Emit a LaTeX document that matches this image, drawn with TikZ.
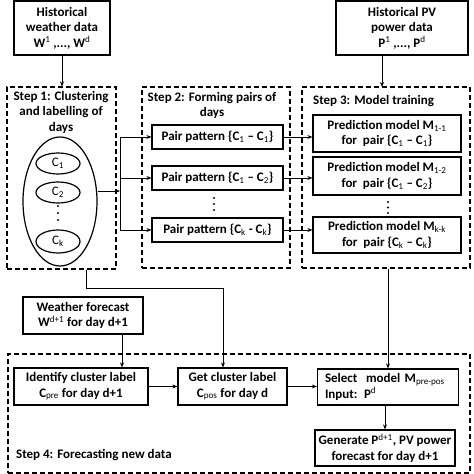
\documentclass[tikz,border=0pt]{standalone}
\usepackage{fontspec}
\setmainfont{Carlito}
\usetikzlibrary{shapes.geometric,arrows.meta,calc}
\newcommand{\sbs}[1]{\textsubscript{\mdseries #1}}
\newcommand{\sps}[1]{\textsuperscript{\mdseries #1}}
\begin{document}
\begin{tikzpicture}[x=1pt,y=-1pt,
  font=\bfseries\fontsize{13}{15.5}\selectfont,
  box/.style={draw,line width=1.2pt,align=center,inner sep=1pt},
  dbox/.style={draw,line width=1.2pt,dash pattern=on 5pt off 3pt},
  arr/.style={line width=1pt,-{Stealth[length=5pt,width=4pt]}},
  ln/.style={line width=1pt},
  dotc/.style={fill,circle,inner sep=0pt,minimum size=2.4pt},
  cl/.style={draw,ellipse,line width=1.2pt,inner sep=0pt,font=\mdseries\fontsize{13}{15}\selectfont}]
\useasboundingbox (0,0) rectangle (474,474);
% dashed step frames
\node[dbox,minimum width=109pt,minimum height=182pt] (s1) at (61.5,178) {};
\node[dbox,minimum width=148pt,minimum height=181pt] (s2) at (216,177.5) {};
\node[dbox,minimum width=168pt,minimum height=181pt] (s3) at (386,177.5) {};
\node[dbox,minimum width=462pt,minimum height=119pt] (s4) at (239,413.5) {};
% titles
\node[align=center,inner sep=0pt] (t1) at (61,112) {Step 1: Clustering\\and labelling of\\days};
\node[align=center,inner sep=0pt] (t2) at (212,105.5) {Step 2: Forming pairs of\\days};
\node[anchor=west,inner sep=0pt] (t3) at (313,101) {Step 3: Model training};
\node[anchor=west,inner sep=0pt] (t4) at (16,455) {Step 4: Forecasting new data};
% top inputs
\node[box,minimum width=96pt,minimum height=54pt] (hw) at (62,28) {Historical\\weather data\\W\sps{1} ,..., W\sps{d}};
\node[box,minimum width=132pt,minimum height=54pt] (hp) at (402,28) {Historical PV\\power data\\P\sps{1} ,..., P\sps{d}};
% step 1 ellipses
\node[draw,ellipse,line width=1.2pt,minimum width=74pt,minimum height=129pt] (E) at (60,201.5) {};
\node[cl,minimum width=44pt,minimum height=21pt] (c1) at (58,163.5) {C\textsubscript{1}};
\node[cl,minimum width=44pt,minimum height=21pt] (c2) at (58,192.5) {C\textsubscript{2}};
\node[cl,minimum width=44pt,minimum height=23pt] (ck) at (58,241.5) {C\textsubscript{k}};
\node[dotc] (d1a) at (58,206) {};
\node[dotc] (d1b) at (58,213) {};
\node[dotc] (d1c) at (58,220) {};
% step 2 pairs
\node[box,minimum width=131pt,minimum height=24pt] (p1) at (217.5,137) {Pair pattern \{C\sbs{1} -- C\sbs{1}\}};
\node[box,minimum width=131pt,minimum height=24pt] (p2) at (217.5,178) {Pair pattern \{C\sbs{1} -- C\sbs{2}\}};
\node[box,minimum width=131pt,minimum height=24pt] (p3) at (217.5,230) {Pair pattern \{C\sbs{k} - C\sbs{k}\}};
\node[dotc] (d2a) at (214,198) {};
\node[dotc] (d2b) at (214,204) {};
\node[dotc] (d2c) at (214,210) {};
% step 3 models
\node[box,minimum width=148pt,minimum height=37pt] (m1) at (387,133.5) {Prediction model M\sbs{1-1}\\for\ \ pair \{C\sbs{1} -- C\sbs{1}\}};
\node[box,minimum width=148pt,minimum height=38pt] (m2) at (387,176) {Prediction model M\sbs{1-2}\\for\ \ pair \{C\sbs{1} -- C\sbs{2}\}};
\node[box,minimum width=148pt,minimum height=36pt] (m3) at (387,235) {Prediction model M\sbs{k-k}\\for\ \ pair \{C\sbs{k} -- C\sbs{k}\}};
\node[dotc] (d3a) at (388,202) {};
\node[dotc] (d3b) at (388,207.5) {};
\node[dotc] (d3c) at (388,213) {};
% step 4
\node[box,minimum width=120pt,minimum height=37pt] (wf) at (83,315.5) {Weather forecast\\W\sps{d+1} for day d+1};
\node[box,minimum width=134pt,minimum height=37pt] (id) at (81,386.5) {Identify cluster label\\C\sbs{pre} for day d+1};
\node[box,minimum width=109pt,minimum height=37pt] (get) at (232.5,386.5) {Get cluster label\\C\sbs{pos} for day d};
\node[box,minimum width=141pt,minimum height=36pt,align=left,text width=126pt] (sel) at (388,387) {Select\ \ model M\sbs{pre-pos}\\Input: P\sps{d}};
\node[box,minimum width=140pt,minimum height=36pt] (gen) at (385,448) {Generate P\sps{d+1}, PV power\\forecast for day d+1};
% connectors
\draw[arr] (hw.south) -- (hw.south |- s1.north);
\coordinate (hpin) at (382,87);
\draw[arr] (hp.south -| hpin) -- (hpin);
\coordinate (br) at (120,191);
\draw[arr] (E.east |- br) -- (br);
\draw[ln] (br |- p1.west) -- (br |- p3.west);
\draw[arr] (br |- p1.west) -- (p1.west);
\draw[arr] (br |- p2.west) -- (p2.west);
\draw[arr] (br |- p3.west) -- (p3.west);
\draw[arr] (p1.east) -- (p1.east -| m1.west);
\draw[arr] (p2.east) -- (p2.east -| m2.west);
\draw[arr] (p3.east) -- (p3.east -| m3.west);
\draw[arr] (s3.south -| sel.north) -- (sel.north);
\coordinate (wfo) at (122,0);
\draw[arr] (wf.south -| wfo) -- (id.north -| wfo);
\coordinate (s1o) at (86,269);
\coordinate (bend) at (86,288);
\coordinate (geto) at (223,0);
\draw[arr] (s1.south -| s1o) -- (bend) -| (get.north -| geto);
\draw[arr] (id.east) -- (get.west);
\draw[arr] (get.east) -- (get.east -| sel.west);
\draw[arr] (sel.south) -- (sel.south -| gen.north) -- (gen.north);
\end{tikzpicture}
\end{document}
